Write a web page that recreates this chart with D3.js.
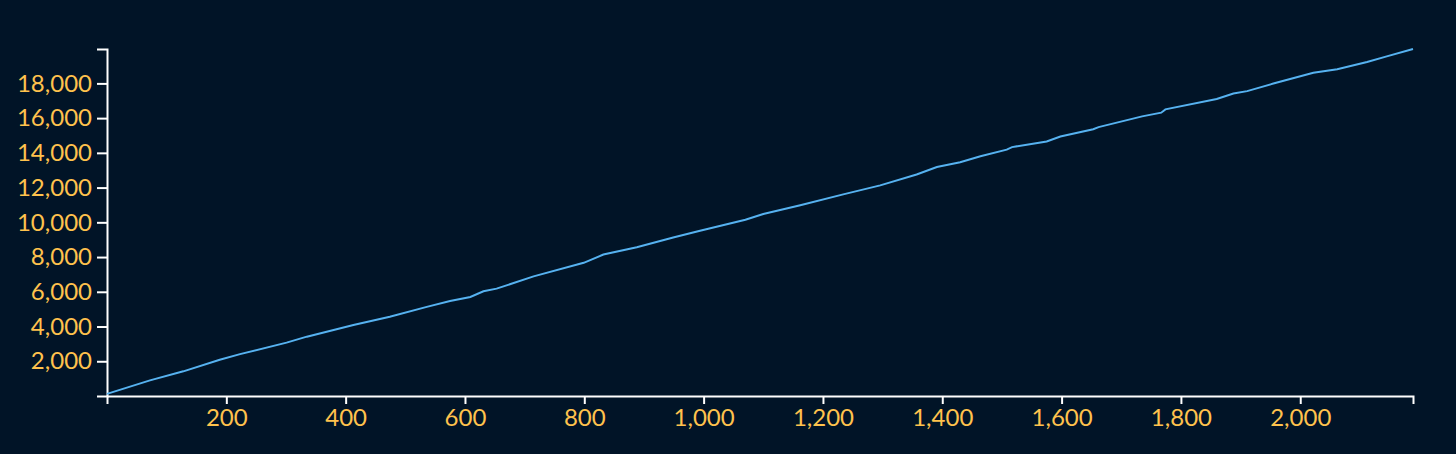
<!DOCTYPE html>
<html>
<head>
<meta charset="utf-8">
<script src="https://cdn.jsdelivr.net/npm/d3@7"></script>
<style>
	html, body { margin:0; padding:0; background:#011427; }
	#chart { width:1456px; height:454px; }
	.axis path, .axis line { stroke:#ffffff; stroke-width:2; }
	.axis text { fill:#ffc24d; font-family:Lato, sans-serif; font-size:24px; }
</style>
</head>
<body>
<div id="chart"></div>
<script>

const days = [0,72,128,189,223,301,335,413,474,536,575,609,631,653,715,799,832,888,949,994,
	1070,1100,1162,1234,1296,1357,1391,1430,1464,1508,1517,1575,1598,1653,1662,1735,1767,1774,
	1860,1888,1911,1955,2022,2062,2112,2145,2189];
const totals = [120,900,1420,2086,2411,3074,3417,4086,4560,5131,5474,5703,6028,6183,6886,7669,8143,8560,9131,9514,
	10150,10480,10983,11611,12126,12754,13189,13457,13800,14183,14331,14657,14943,15360,15480,16100,16314,16503,
	17097,17417,17554,17989,18617,18811,19229,19554,19980];

const xTicks = [200,400,600,800,1000,1200,1400,1600,1800,2000];
const yTicks = [2000,4000,6000,8000,10000,12000,14000,16000,18000];

const root = document.getElementById('chart');

const margin = {t:49,r:43,b:58,l:107};
const w_svg = 1456;
const h_svg = 454;
const w = w_svg-margin.l-margin.r;
const h = h_svg-margin.t-margin.b;

const data = days.map(function(d,i){ return {day:d, total:totals[i]}; });

const svg = d3.select(root)
	.append('svg')
	.attr('width', w_svg)
	.attr('height', h_svg);

const plot = svg.append('g')
	.attr('class','plot')
	.attr('transform',`translate(${margin.l},${margin.t})`);

const scaleX = d3.scaleLinear()
	.domain([0, d3.max(days)])
	.range([0,w]);

const scaleY = d3.scaleLinear()
	.domain([0, d3.max(totals)])
	.range([h,0]);

////////////////////////////////////////////////////////////////////

const axisX = d3.axisBottom()
	.scale(scaleX)
	.tickValues(xTicks)
	.tickFormat(d3.format(','))
	.tickSize(8)
	.tickPadding(5);

plot.append('g')
	.attr('class','axis axis-x')
	.attr('transform',`translate(0,${h})`)
	.call(axisX);

////////////////////////////////////////////////////////////////////

const axisY = d3.axisLeft()
	.scale(scaleY)
	.tickValues(yTicks)
	.tickFormat(d3.format(','))
	.tickSize(10)
	.tickPadding(5);

plot.append('g')
	.attr('class','axis axis-y')
	.call(axisY);

////////////////////////////////////////////////////////////////////

const line = d3.line()
	.x(function(d){ return scaleX(d.day); })
	.y(function(d){ return scaleY(d.total); });

plot.append('path')
	.datum(data)
	.attr('class','line')
	.attr('d', line)
	.attr('fill','none')
	.attr('stroke','#56b2f0')
	.attr('stroke-width',2);

</script>
</body>
</html>
